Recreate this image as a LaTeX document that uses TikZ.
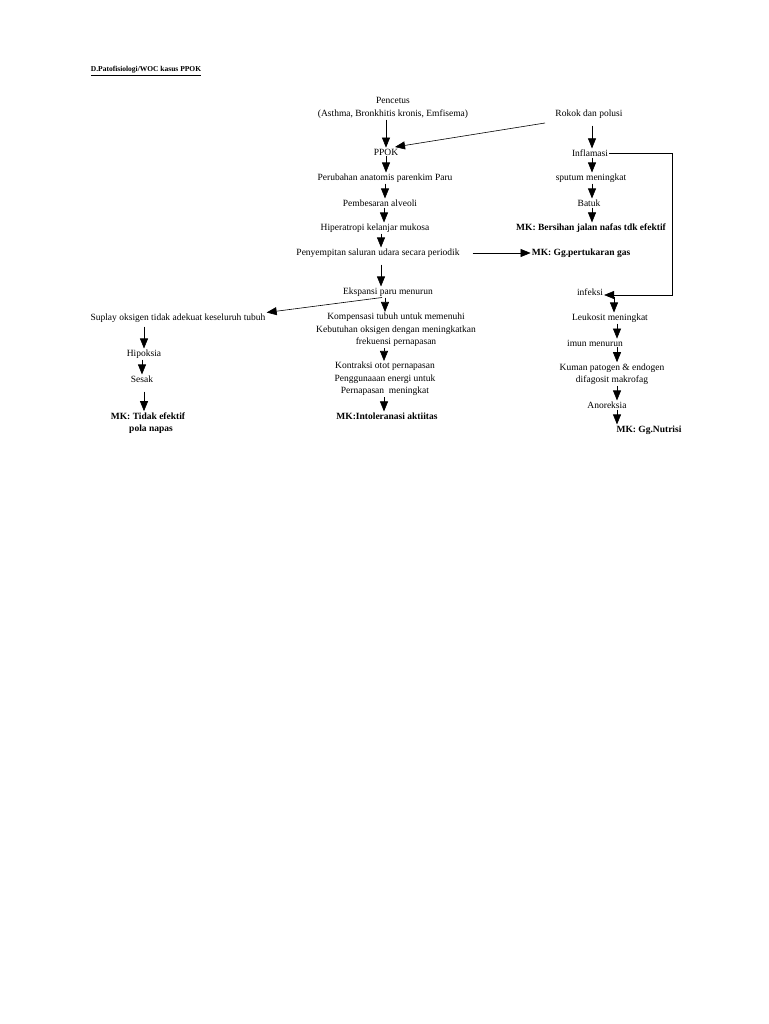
\documentclass[tikz,border=0pt]{standalone}
\usepackage{fontspec}
\setmainfont{Liberation Serif}
\usetikzlibrary{arrows.meta}
\begin{document}
\begin{tikzpicture}[x=1pt,y=-1pt,
  t/.style={inner sep=1pt,font=\fontsize{9.5}{12.5}\selectfont,align=center},
  mk/.style={t,font=\fontsize{9.5}{12.5}\selectfont\bfseries},
  ar/.style={-{Triangle[width=8pt,length=10pt]},line width=0.6pt}]
\useasboundingbox (0,0) rectangle (768,1024);
\node[inner sep=0pt,font=\fontsize{7.5}{9}\selectfont\bfseries] (title) at (146,71) {\underline{D.Patofisiologi/WOC kasus PPOK}};
\node[t] (pencetus) at (393,108) {Pencetus\\ (Asthma, Bronkhitis kronis, Emfisema)};
\node[t] (rokok) at (589,114) {Rokok dan polusi};
\node[t] (ppok) at (386,152) {PPOK};
\node[t] (inflamasi) at (590,153) {Inflamasi};
\node[t] (perubahan) at (385,178) {Perubahan anatomis parenkim Paru};
\node[t] (sputum) at (591,178) {sputum meningkat};
\node[t] (pembesaran) at (380,203) {Pembesaran alveoli};
\node[t] (batuk) at (589,203) {Batuk};
\node[t] (hiper) at (375,228) {Hiperatropi kelanjar mukosa};
\node[mk] (mkbersih) at (591,228) {MK: Bersihan jalan nafas tdk efektif};
\node[t] (penyempitan) at (378,253) {Penyempitan saluran udara secara periodik};
\node[mk] (mkgas) at (581,253) {MK: Gg.pertukaran gas};
\node[t] (ekspansi) at (388,292) {Ekspansi paru menurun};
\node[t] (infeksi) at (590,292) {infeksi};
\node[t] (suplay) at (178,318) {Suplay oksigen tidak adekuat keseluruh tubuh};
\node[t] (kompensasi) at (396,330) {Kompensasi tubuh untuk memenuhi\\ Kebutuhan oksigen dengan meningkatkan\\ frekuensi pernapasan};
\node[t] (leukosit) at (610,318) {Leukosit meningkat};
\node[t] (imun) at (595,343) {imun menurun};
\node[t] (kuman) at (612,374) {Kuman patogen \& endogen\\ difagosit makrofag};
\node[t] (anoreksia) at (607,405) {Anoreksia};
\node[mk] (mknutrisi) at (649,430) {MK: Gg.Nutrisi};
\node[t] (hipoksia) at (144,354) {Hipoksia};
\node[t] (sesak) at (142,379) {Sesak};
\node[mk] (mkpola) at (148,423) {MK: Tidak efektif\\ \hspace*{6pt}pola napas};
\node[t] (kontraksi) at (385,379) {Kontraksi otot pernapasan\\ Penggunaaan energi untuk\\ Pernapasan\ \ meningkat};
\node[mk] (mkintol) at (387,416) {MK:Intoleranasi aktiitas};
\coordinate (ppokin) at (395,147);
\coordinate (rokokout) at (545,123);
\draw[ar] (pencetus.south -| ppok) -- (ppok.north);
\draw[ar] (rokokout) -- (ppokin);
\draw[ar] (rokok.south) ++(3,6) -- (inflamasi.north -| 592,0);
\draw[ar] (ppok.south) -- (perubahan.north -| ppok);
\draw[ar] (perubahan.south) -- (pembesaran.north -| perubahan);
\draw[ar] (pembesaran.south -| 384,0) -- (hiper.north -| 384,0);
\draw[ar] (hiper.south -| 381,0) -- (penyempitan.north -| 381,0);
\draw[ar] (penyempitan.south -| 381,0) ++(0,6) -- (ekspansi.north -| 381,0);
\draw[ar] (inflamasi.south -| 592,0) -- (sputum.north -| 592,0);
\draw[ar] (sputum.south -| 592,0) -- (batuk.north -| 592,0);
\draw[ar] (batuk.south -| 592,0) -- (mkbersih.north -| 592,0);
\draw[ar] (penyempitan.east) ++(12,0) -- (mkgas.west);
\draw[ar] (inflamasi.east) -- (672,153) -- (672,295) -- (infeksi.east |- 0,295);
\draw[ar] (ekspansi.south -| 382,0) -- (suplay.north east);
\draw[ar] (ekspansi.south -| 385,0) -- (kompensasi.north -| 385,0);
\draw[ar] (suplay.south -| 144,0) ++(0,3) -- (hipoksia.north -| 144,0);
\draw[ar] (hipoksia.south -| 142,0) -- (sesak.north -| 142,0);
\draw[ar] (sesak.south -| 144,0) ++(0,8) -- (mkpola.north -| 144,0);
\draw[ar] (kompensasi.south -| 384,0) -- (kontraksi.north -| 384,0);
\draw[ar] (kontraksi.south -| 384,0) -- (mkintol.north -| 384,0);
\draw[ar] (infeksi.south -| 614,0) -- (leukosit.north -| 614,0);
\draw[ar] (leukosit.south -| 617,0) -- (imun.north -| 617,0);
\draw[ar] (imun.south -| 617,0) -- (kuman.north -| 617,0);
\draw[ar] (kuman.south -| 617,0) -- (anoreksia.north -| 617,0);
\draw[ar] (anoreksia.south -| 617,0) -- (mknutrisi.north -| 617,0);
\end{tikzpicture}
\end{document}
